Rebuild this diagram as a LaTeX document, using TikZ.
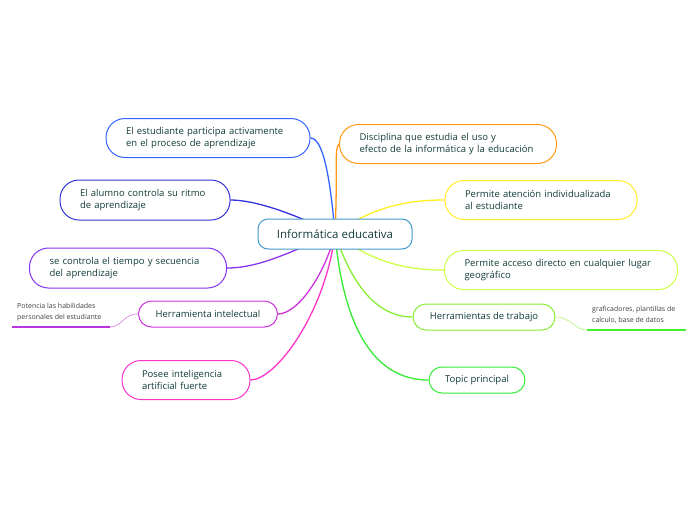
\documentclass[tikz,border=0pt]{standalone}
\usepackage{fontspec}
\setmainfont{Open Sans}
\usetikzlibrary{backgrounds}
\definecolor{txt}{HTML}{123C3A}
\definecolor{cL1}{HTML}{3366FF}
\definecolor{cL2}{HTML}{3333DD}
\definecolor{cL3}{HTML}{8833EE}
\definecolor{cL4}{HTML}{CC33DD}
\definecolor{cL5}{HTML}{FF33CC}
\definecolor{cR1}{HTML}{FF9911}
\definecolor{cR2}{HTML}{FFEE22}
\definecolor{cR3}{HTML}{CCFF44}
\definecolor{cR4}{HTML}{88EE33}
\definecolor{cR5}{HTML}{33EE33}
\definecolor{cC}{HTML}{4499CC}
\tikzset{
 topic/.style={draw=#1, line width=1pt, fill=white, rounded corners=13pt, text=txt,
   font=\fontsize{9.5}{12}\selectfont, align=left, inner ysep=0pt, inner xsep=20pt, anchor=center},
 single/.style={draw=#1, line width=1pt, fill=white, rounded corners=13pt, text=txt,
   font=\fontsize{9.5}{12}\selectfont, inner ysep=0pt, inner xsep=4pt, anchor=center},
 conn/.style={draw=#1, line width=1.3pt},
 sub/.style={draw=#1, line width=0.7pt},
 note/.style={text=black!75, font=\fontsize{7}{11}\selectfont, align=left, inner sep=0pt, anchor=north west}
}
\begin{document}
\begin{tikzpicture}[x=1pt,y=-1pt]
\useasboundingbox (0,0) rectangle (696,520);
\node[single=cC, minimum height=30pt, minimum width=154pt, font=\fontsize{11.5}{14}\selectfont, rounded corners=10pt] (c) at (335,234) {Informática educativa};
\node[topic=cL1, minimum height=39pt, text width=164pt, rounded corners=19pt] (L1) at (208,138) {El estudiante participa activamente\\en el proceso de aprendizaje};
\node[topic=cL2, minimum height=40pt, text width=130pt, rounded corners=19pt] (L2) at (145,200) {El alumno controla su ritmo\\de aprendizaje};
\node[topic=cL3, minimum height=40pt, text width=157pt, rounded corners=19pt] (L3) at (128,268) {se controla el tiempo y secuencia\\del aprendizaje};
\node[single=cL4, minimum height=26pt, minimum width=139pt] (L4) at (208,314) {Herramienta intelectual};
\node[topic=cL5, minimum height=39pt, text width=88pt, rounded corners=19pt] (L5) at (186,380) {Posee inteligencia\\artificial fuerte};
\node[topic=cR1, minimum height=39pt, text width=177pt, rounded corners=19pt] (R1) at (448,144) {Disciplina que estudia el uso y\\efecto de la informática y la educación};
\node[topic=cR2, minimum height=39pt, text width=152pt, rounded corners=19pt] (R2) at (541,200) {Permite atención individualizada\\al estudiante};
\node[topic=cR3, minimum height=39pt, text width=193pt, rounded corners=19pt] (R3) at (561,270) {Permite acceso directo en cualquier lugar\\geográfico};
\node[single=cR4, minimum height=26pt, minimum width=142pt] (R4) at (484,317) {Herramientas de trabajo};
\node[single=cR5, minimum height=26pt, minimum width=96pt] (R5) at (477,380) {Topic principal};
\node[note] (n1) at (17,303) {Potencia las habilidades\\personales del estudiante};
\node[note] (n2) at (592,306) {graficadores, plantillas de\\calculo, base de datos};
\coordinate (u1a) at (110,327); \coordinate (u1b) at (12,327);
\coordinate (u2a) at (587,330); \coordinate (u2b) at (686,330);
\begin{scope}[on background layer]
\fill[white] (0,0) rectangle (696,520);
\draw[conn=cL1] (c.center) .. controls +(-5,-60) and +(12,0) .. (L1.east);
\draw[conn=cL2] (c.center) .. controls +(-40,-20) and +(25,0) .. (L2.east);
\draw[conn=cL3] (c.center) .. controls +(-40,15) and +(35,0) .. (L3.east);
\draw[conn=cL4] (c.center) .. controls +(-10,40) and +(20,0) .. (L4.east);
\draw[conn=cL5] (c.center) .. controls +(-10,80) and +(25,0) .. (L5.east);
\draw[conn=cR1] (c.center) .. controls +(3,-70) and +(-5,5) .. (R1.west);
\draw[conn=cR2] (c.center) .. controls +(40,-30) and +(-30,0) .. (R2.west);
\draw[conn=cR3] (c.center) .. controls +(40,30) and +(-35,0) .. (R3.west);
\draw[conn=cR4] (c.center) .. controls +(20,60) and +(-30,0) .. (R4.west);
\draw[conn=cR5] (c.center) .. controls +(10,110) and +(-45,0) .. (R5.west);
\end{scope}
\draw[sub=cL4!60] (L4.west) .. controls +(-15,0) and +(12,0) .. (u1a);
\draw[draw=cL4!80!cL3, line width=1.6pt] (u1a) -- (u1b);
\draw[sub=cR4!60] (R4.east) .. controls +(15,0) and +(-12,0) .. (u2a);
\draw[draw=cR5!80!cR4, line width=1.6pt] (u2a) -- (u2b);
\end{tikzpicture}
\end{document}
